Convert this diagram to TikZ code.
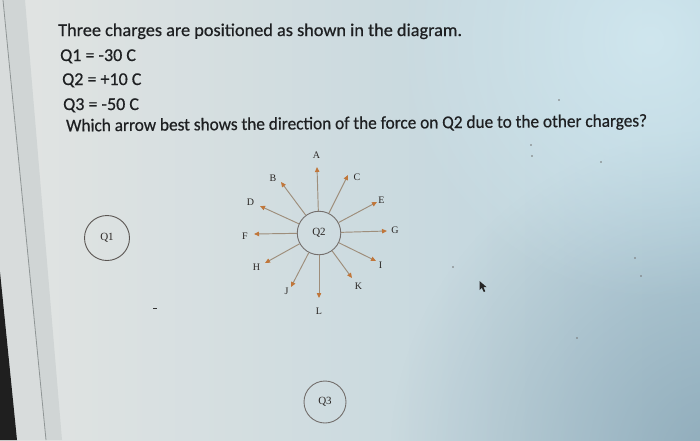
\documentclass[tikz,border=0pt]{standalone}
\usepackage{fontspec}
\setmainfont{Liberation Serif}
\newfontfamily\calib[FakeBold=0.6]{Carlito}
\usetikzlibrary{arrows.meta,fadings}
\definecolor{bgL}{HTML}{E2E4E2}
\definecolor{bgM}{HTML}{DDE4E5}
\definecolor{bgR}{HTML}{B8D2DD}
\definecolor{bgDark}{HTML}{6E8C9E}
\definecolor{bgLight}{HTML}{D8EEF5}
\definecolor{bandc}{HTML}{D0D5D5}
\definecolor{edgec}{HTML}{D8DCDC}
\definecolor{linec}{HTML}{8F9595}
\definecolor{txtc}{HTML}{1E2022}
\definecolor{rayc}{HTML}{9E8E7B}
\definecolor{tipc}{HTML}{C0763A}
\definecolor{circc}{HTML}{5A5552}
\definecolor{labc}{HTML}{2A2624}
\tikzfading[name=radfade, inner color=transparent!0, outer color=transparent!100]
\begin{document}
\begin{tikzpicture}[x=1pt,y=-1pt,
  charge/.style={circle,draw=circc,line width=0.9pt,inner sep=0pt,text=labc,font=\fontsize{11}{13}\selectfont},
  ray/.style={draw=rayc,line width=0.95pt,-{Triangle[length=5pt,width=4.4pt,color=tipc]}},
  lab/.style={inner sep=0pt,text=labc,font=\fontsize{10}{12}\selectfont},
  qtext/.style={anchor=base west,inner sep=0pt,text=txtc,font=\calib\fontsize{18}{21}\selectfont},
  speck/.style={fill=#1,draw=none}]
\useasboundingbox (0,0) rectangle (700,440);
% background
\shade[left color=bgL, middle color=bgM, right color=bgR] (0,0) rectangle (700,440);
\fill[bgDark, path fading=radfade, fill opacity=0.55] (720,460) circle (330);
\fill[bgLight, path fading=radfade, fill opacity=0.7] (650,40) circle (260);
\fill[edgec] (0,0) -- (3,0) -- (46,440) -- (0,440) -- cycle;
\fill[bandc] (3,0) -- (25,0) -- (62,440) -- (46,440) -- cycle;
\draw[linec, line width=0.8pt] (3,0) -- (46,440);
\fill[black!88] (0,272) -- (17,440) -- (0,440) -- cycle;
% question text
\node[qtext, xscale=1.015] (t1) at (58,36) {Three charges are positioned as shown in the diagram.};
\node[qtext] (t2) at (60,61) {Q1 = -30 C};
\node[qtext] (t3) at (62,85) {Q2 = +10 C};
\node[qtext] (t4) at (63,110) {Q3 = -50 C};
\node[qtext, rotate=0.5, xscale=0.958] (t5) at (66,131.5) {Which arrow best shows the direction of the force on Q2 due to the other charges?};
% charges
\node[charge, minimum size=45pt] (Q1) at (107,238) {Q1};
\node[charge, minimum size=43.5pt, draw=circc!85] (Q2) at (319,233) {Q2};
\node[charge, minimum size=42pt, draw=circc!85] (Q3) at (325,402) {Q3};
% arrow tips
\coordinate (tA) at (317,167);
\coordinate (tB) at (281,182);
\coordinate (tC) at (348,175);
\coordinate (tD) at (260,206);
\coordinate (tE) at (377,202);
\coordinate (tF) at (254,234);
\coordinate (tG) at (387,231);
\coordinate (tH) at (265,263);
\coordinate (tI) at (376,261);
\coordinate (tJ) at (291,287);
\coordinate (tK) at (352,278);
\coordinate (tL) at (319,298);
\foreach \t in {A,B,C,D,E,F,G,H,I,J,K,L} {\draw[ray] (Q2) -- (t\t);}
% labels
\node[lab] (lA) at (316.5,155) {A};
\node[lab] (lB) at (273,178) {B};
\node[lab] (lC) at (357,177) {C};
\node[lab] (lD) at (250.5,202) {D};
\node[lab] (lE) at (381.5,200.5) {E};
\node[lab] (lF) at (245,236.5) {F};
\node[lab] (lG) at (395,230.5) {G};
\node[lab] (lH) at (256.5,267.5) {H};
\node[lab] (lI) at (380.5,265) {I};
\node[lab] (lJ) at (286.5,291.5) {J};
\node[lab] (lK) at (358.5,286.5) {K};
\node[lab] (lL) at (319,311) {L};
% specks and cursor
\fill[black!80] (153,307.5) rectangle (157,309);
\fill[black!85] (479.5,281) -- (479.5,290) -- (481.8,287.8) -- (483.8,292) -- (485.3,291.2) -- (483.4,287.2) -- (486.5,287) -- cycle;
\foreach \p in {(531,145),(532,156),(601,162),(453,267),(635,258),(577,338),(641,276),(559,100)} {\fill[speck=black!55] \p circle (0.8pt);}
\end{tikzpicture}
\end{document}
